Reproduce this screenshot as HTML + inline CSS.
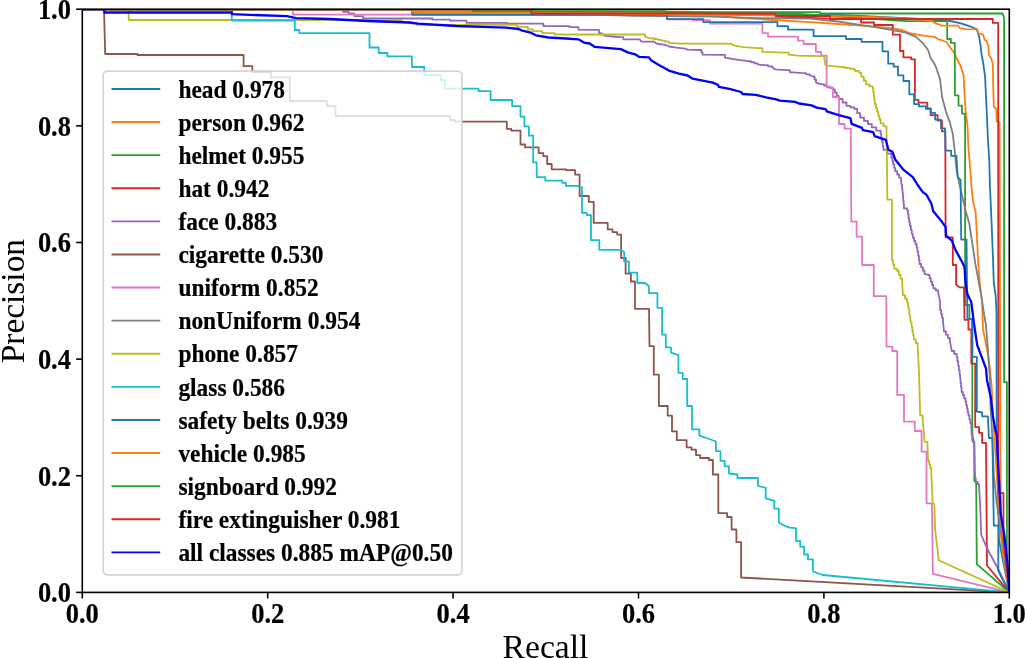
<!DOCTYPE html>
<html><head><meta charset="utf-8"><title>Precision-Recall</title>
<style>html,body{margin:0;padding:0;background:#fff}svg{display:block}text{font-family:"Liberation Serif","DejaVu Serif",serif;fill:#000}</style></head><body>
<svg width="1025" height="658" viewBox="0 0 1025 658">
<rect width="1025" height="658" fill="#fff"/>
<defs><clipPath id="c"><rect x="82.3" y="9.2" width="927" height="583.2"/></clipPath></defs>
<g clip-path="url(#c)" fill="none" stroke-linejoin="round" stroke-linecap="butt">
<polyline points="82.3,9.25 412.4,9.25 412.4,14.2 840,15 870,16.5 910,18.5 948,20.5 961,23.4 969.9,26.3 976.7,29.3 979,36.1 980.6,45.9 981.6,54.6 982.7,60 985,75.6 986.6,108.8 987.9,138 989.3,161.5 989.9,185 991.2,214.3 992.8,253.3 993.8,282.6 995.7,296.2 996.5,312.8 996.7,440 999,540 1009.3,592.4" stroke="#1f77b4" stroke-width="1.8"/>
<polyline points="82.3,9.25 412.4,9.25 412.4,11.2 690,11.6 705.8,14.4 735,17.5 772.4,20 810,22.2 838,24 861,25.6 892,28.1 902,30 911,33.5 923.4,35.6 934.8,36.9 937.7,39 946.5,42 950.4,47.8 954.3,52.7 957.2,59.5 960.6,65.9 963.5,74.6 964.5,93.2 965.9,114.6 967.4,124.4 968.4,147.8 970.4,171.2 971.3,185 972.9,200.6 975.6,212.3 976.8,233.8 978.2,263 980.1,286.5 982.1,302.1 983,329.5 987,349 989.9,368.5 991.8,388 992.4,407.6 993.8,427.1 996.7,474 999.6,513 1001.6,544.3 1004.5,563 1009.3,592.4" stroke="#ff7f0e" stroke-width="1.8"/>
<polyline points="82.3,9.25 472.9,9.25 472.9,11.4 665,11.6 800,14 860,18 907.2,21.2 947.2,21.2 947.2,39 950.9,39 950.9,42.9 954.8,42.9 954.9,95.4 958.5,95.4 958.5,105.6 962,105.6 962,113.7 965.1,113.7 965.1,305 969.4,305 969.4,318.8 972.3,318.8 972.3,440 974.3,444 974.3,481 976.2,483 976.8,564.1 1009.3,592.4" stroke="#2ca02c" stroke-width="1.8"/>
<polyline points="82.3,9.25 531,9.25 531.5,13.5 775.6,14 775.6,16.5 830,18.7 861,18.7 861,22.5 874,22.5 874,25 892.8,25 892.8,34.7 900,34.7 900,51 903.4,51 903.4,57.3 911.2,57.3 911.2,59.3 914.9,59.3 914.9,99.8 918.5,99.8 918.5,102.7 927.3,102.7 927.3,108.5 930.7,108.5 930.7,115.2 937.6,115.2 937.6,120.6 942,120.6 942,131.3 945.3,131.3 945.6,237.3 952.8,237.3 952.8,265 956.1,265 956.1,284.5 959.6,287.4 963.9,287.4 964.5,319.8 968.4,319.8 968.4,329.5 971.3,329.5 971.3,363.7 975.2,363.7 975.2,427.1 979.1,427.1 979.1,432.9 982.1,432.9 982.1,442.8 986,442.8 987,565.5 1009.3,592.4" stroke="#d62728" stroke-width="1.8"/>
<polyline points="82.3,9.25 343.1,9.25 343.1,11.9 348.7,11.9 348.7,13.5 354.4,13.5 354.4,16.2 363.1,16.2 363.1,18.5 432.4,18.5 432.4,19.7 449.9,19.7 449.9,20.6 466.6,20.6 466.6,22.9 507.2,22.9 507.2,23.7 543.4,23.7 543.4,26.2 569.6,26.2 569.6,27.2 578.4,27.2 578.4,29.7 596.5,29.9 599,29.9 599,33.1 601.5,33.1 601.5,34.4 604,34.4 604,35.6 612.7,36.5 620,37.2 623.3,37.2 623.3,39.3 639.6,39.3 641.5,41.6 653.9,41.6 656.4,43.5 666.4,45.2 668.9,46.5 676.4,47.7 685.1,48.7 687.6,49.7 700.1,50 701.4,50 701.4,52.4 702.6,52.4 702.6,54.7 720.6,54.9 725,54.9 725,57.7 735,59.3 747.5,61.2 750.8,61.2 750.8,62.2 754.2,62.2 754.2,63.3 757.5,63.3 757.5,64.3 763.7,65.2 768,65.2 768,66.3 772.4,66.3 772.4,67.4 775,69.3 787.4,70.2 789.9,70.2 789.9,72.2 802.4,73.1 806.1,73.1 806.1,74.3 809.9,74.3 809.9,75.5 812.9,76.5 814.5,76.5 814.5,79.5 816,79.5 816,82.6 821.7,84.4 824.2,84.4 824.2,85.5 826.8,85.5 826.8,86.6 829.8,86.6 829.8,87.9 832.8,87.9 832.8,89.3 834.8,89.3 834.8,92.5 836.7,92.5 836.7,95.8 838.7,95.8 838.7,99 842.6,99 842.6,102.5 846.5,102.5 846.5,105.9 850.4,105.9 850.4,107.3 854.3,107.3 854.3,108.8 857.2,108.8 857.2,113.2 860.1,113.2 860.1,117.6 864,117.6 864,120.8 867.9,120.8 867.9,124.1 871.8,124.1 871.8,127.3 876.2,127.3 876.2,130.7 880.6,130.7 880.6,134.1 881.3,134.1 881.3,138 882,138 882,141.9 882.8,141.9 882.8,145.9 883.5,145.9 883.5,149.8 887.4,149.8 887.4,153.7 891.3,153.7 891.3,157.6 892.3,157.6 892.3,161 893.2,161 893.2,164.4 894.2,164.4 894.2,167.8 895.2,167.8 895.2,171.2 897.2,171.2 897.2,174.5 899.1,174.5 899.1,177.7 901.1,177.7 901.1,181 901.7,185 902.1,185 902.1,188.9 902.5,188.9 902.5,192.8 902.9,192.8 902.9,196.7 903.2,196.7 903.2,200.6 903.6,200.6 903.6,204.5 904,204.5 904,208.4 907.3,208.4 907.3,210.4 907.9,210.4 907.9,214.3 908.6,214.3 908.6,218.2 909.2,218.2 909.2,222.1 909.9,222.1 909.9,226 910.9,226 910.9,229.9 911.8,229.9 911.8,233.8 912.8,233.8 912.8,237.7 914.1,237.7 914.1,240.9 915.4,240.9 915.4,244.2 916.7,244.2 916.7,247.4 917.4,247.4 917.4,251.6 918.2,251.6 918.2,255.7 918.9,255.7 918.9,259.9 919.6,259.9 919.6,264 921.2,264 921.2,267.3 922.9,267.3 922.9,270.5 924.5,270.5 924.5,273.8 928.4,274.8 929.6,274.8 929.6,278.2 930.8,278.2 930.8,281.6 932.1,281.6 932.1,285 933.3,285 933.3,288.4 935.8,288.4 935.8,290.4 938.2,290.4 938.2,292.3 940.1,302.1 940.1,310 941.1,310 941.1,313.9 942,313.9 942,317.8 943,317.8 943,321.7 944,331.5 946,331.5 946,334.7 947.9,334.7 947.9,338 949.9,338 949.9,341.2 951.8,351 954.2,351 954.2,353.9 956.7,353.9 956.7,356.8 957.4,356.8 957.4,361.2 958.2,361.2 958.2,365.6 958.9,365.6 958.9,370 959.6,370 959.6,374.4 960.1,374.4 960.1,378.8 960.6,378.8 960.6,383.2 961.1,383.2 961.1,387.6 961.6,387.6 961.6,392 962.9,392 962.9,395.2 964.2,395.2 964.2,398.5 965.5,398.5 965.5,401.7 966.2,401.7 966.2,405.1 967,405.1 967,408.5 967.7,408.5 967.7,412 968.4,412 968.4,415.4 969.4,415.4 969.4,419.3 970.3,419.3 970.3,423.2 971.3,423.2 971.3,427.1 971.7,435 972.6,435 972.6,438.3 973.4,438.3 973.4,441.5 974.3,441.5 974.3,444.8 974.9,474 976.2,481.8 977.7,481.8 977.7,484.2 979.1,484.2 979.1,486.7 980.5,513 981.1,534.5 987,548.2 997.7,568 1009.3,592.4" stroke="#9467bd" stroke-width="1.8"/>
<polyline points="82.3,9.25 104,9.25 105.2,54 137.4,54 137.4,55 243.6,55 243.6,66.2 252.3,66.2 252.3,72 271,72 271,77.4 289.8,77.4 289.8,101 327,101 327,106 335.5,106 335.5,116 449.9,116 449.9,120 454.9,120 454.9,121.6 506.8,121.6 506.8,128.9 511.3,128.9 511.3,130.6 520.5,130.6 520.5,144.5 525,144.5 525,147.4 538.6,147.4 538.6,153.1 543.3,153.1 543.3,156.2 547.2,156.2 547.2,164 551.7,164 551.7,169.3 566.3,169.3 566.3,170.2 575.1,170.2 575.1,174.7 579.6,174.7 579.6,196 588.8,196 588.8,201.9 593.7,201.9 593.7,222.9 607.7,222.9 607.7,229.4 612.5,229.4 612.5,232.1 617.2,232.1 617.2,234.6 621.1,234.6 621.1,258 625.6,258 625.6,273.7 630.9,273.7 630.9,281.5 635,281.5 635,308.8 649,308.8 649.5,346.2 653.8,346.2 653.8,374.7 658.9,374.7 658.9,406 667.7,406 667.7,415.7 672,415.7 672,431.3 676.8,431.3 676.8,440.1 686.6,440.1 686.6,447.3 691.5,447.3 691.5,449.7 696,449.7 696,455.1 700.2,455.1 700.2,458 709,458 709,460 712.9,460 712.9,474.5 718.3,474.5 718.3,513.1 727.1,513.1 727.1,517 731.6,517 731.6,529.5 736.4,529.5 736.4,542.2 741.1,542.2 741.1,577.5 1009.3,592.4" stroke="#8c564b" stroke-width="1.8"/>
<polyline points="82.3,9.25 292.8,9.25 292.8,14.6 667,14.6 667,19.3 692.6,19.3 692.6,20.2 710,20.2 710,23.7 762.4,23.7 762.4,33.1 768,33.1 768,36.6 798,36.6 798,40.6 803.7,40.6 803.7,44 815.9,44 815.9,51.8 821.1,51.8 821.1,55.6 826.6,55.6 826.6,87.3 832.8,87.3 832.8,97 839,97 839,124 844.5,124 844.5,128.7 850.8,128.7 851.3,221.7 856.6,221.7 856.6,236.7 862.1,236.7 862.1,265 873.8,265 873.8,296.2 886.3,296.2 886.5,346.7 892.3,346.7 892.3,351 897.2,351 897.2,394.9 904,394.9 904,421.6 914.8,421.6 914.8,431 921.6,431 921.6,451.6 926.5,451.6 926.5,503.3 931.9,503.3 932.9,573.9 1009.3,592.4" stroke="#e377c2" stroke-width="1.8"/>
<polyline points="82.3,9.25 412.4,9.25 412.4,14.6 600,14.8 634,15.9 710,16.6 760,18.1 810,18.7 838,21.5 848.5,23.1 873.5,26.8 892.2,30 906,32.7 916,36.8 923.4,43.7 927.9,49.8 930.9,58.5 934.3,63.4 936.2,67.8 940.1,79.5 942.1,97.1 946,111.7 949.9,122.4 952.8,134.1 954.8,151.7 956.7,171.2 959.6,185 965.5,210.4 969.4,224 975.2,263 981.1,294.3 983.4,310 986,325.6 987.9,349 989.9,378.3 990.5,407.6 991.8,427.1 993.8,474 996.7,503.3 999.6,522.8 1003,545 1009.3,592.4" stroke="#7f7f7f" stroke-width="1.8"/>
<polyline points="82.3,9.25 128.7,9.25 128.7,20 402,20 402,22.3 417,23.8 417,24.9 517.2,24.9 517.2,26.8 527.8,26.8 527.8,29.3 532.8,29.3 532.8,31.2 542.2,31.2 542.2,33.1 554.6,33.1 554.6,34.5 642.7,34.5 645.2,34.5 645.2,36.8 651.4,38.5 654.7,38.5 654.7,39.2 658.1,39.2 658.1,39.9 661.4,39.9 661.4,40.6 665.1,40.6 665.1,41.7 668.9,41.7 668.9,42.8 680.2,43.7 730.6,43.7 735,45.6 743.7,47.2 758.7,48.1 762.4,48.1 762.4,51.8 786.2,52.7 788.7,52.7 788.7,54.7 797.4,55.6 821.1,56.2 824.3,56.2 824.3,58.7 825.5,65.3 840.6,66.8 843.9,66.8 843.9,67.5 847.1,67.5 847.1,68.1 850.4,68.1 850.4,68.8 854.7,68.8 854.7,70.8 859,70.8 859,72.7 861.3,72.7 861.3,76.6 863.7,76.6 863.7,80.5 866,80.5 866,84.4 869.4,84.4 869.4,86.3 872.8,86.3 872.8,88.3 873.3,88.3 873.3,92.2 873.8,92.2 873.8,96.1 874.3,96.1 874.3,100 874.8,100 874.8,103.9 876,103.9 876,107.8 877.1,107.8 877.1,111.7 878.3,111.7 878.3,115.6 879.4,115.6 879.4,119.5 880.6,119.5 880.6,123.4 883.5,123.4 883.5,126.4 886.5,126.4 886.5,129.3 887.4,199.6 891.9,199.6 891.9,260.1 893.1,260.1 893.1,264.5 894.3,264.5 894.3,268.9 897.2,268.9 897.2,270.9 898.8,270.9 898.8,274.8 900.5,274.8 900.5,278.7 902.1,278.7 902.1,282.6 903,295.2 905,295.2 905,298.6 907,298.6 907,302.1 907.8,302.1 907.8,305.7 908.5,305.7 908.5,309.2 909.3,309.2 909.3,312.8 910.9,322.7 911.6,322.7 911.6,326.9 912.3,326.9 912.3,331 913.1,331 913.1,335.1 913.8,335.1 913.8,339.3 915.8,339.3 915.8,343.2 917.7,343.2 917.7,347.1 919,372.4 920.2,415.4 922.6,415.4 922.6,419.3 924.1,435 924.5,441.8 927.4,441.8 928,460.4 929.1,460.4 929.1,464.3 930.2,464.3 930.2,468.2 931.3,468.2 931.3,472.1 932.7,503.3 934.3,504 935.2,530.6 937.2,546.2 938.6,560.2 1009.3,592.4" stroke="#bcbd22" stroke-width="1.8"/>
<polyline points="82.3,9.25 231.8,9.25 231.8,20.5 294.8,20.5 294.8,30 299.3,30 299.3,33.2 369.5,33.2 369.5,47.5 378.7,47.5 378.7,53 387.4,53 387.4,56.4 411.9,56.4 411.9,67 424.2,67 424.2,75 440.6,75 440.6,80 444.9,80 444.9,88.7 478.6,88.7 478.6,91.2 490.6,91.2 490.6,100 512.1,100 512.1,106.2 520.5,106.2 520.5,116.6 524.4,116.6 524.4,126.3 528.9,126.3 528.9,135.7 533.2,135.7 533.2,162.4 536.7,162.4 536.7,177.1 545.3,177.1 545.3,180.6 562.4,180.6 562.4,182.9 566,182.9 566,185.9 579,185.9 579,187.4 582,187.4 582,212.8 586.8,212.8 586.8,215.1 591,215.1 591,240.1 599.3,240.1 599.3,249.9 621.1,249.9 624.2,252.2 624.2,261.4 628.9,261.4 628.9,272.7 637.3,272.7 637.3,283 645.1,283 649,286.3 649,293.2 657.4,293.2 657.4,307.8 662.1,307.8 662.1,334.7 665.8,334.7 665.8,347.4 671,347.4 671,352.7 678.4,355.2 678.4,372.8 682.7,372.8 682.7,379 687.2,379 687.2,406 692,406 692,429.4 699.3,429.4 699.3,435.6 708,438.5 715.9,441.5 715.9,451.2 720.5,451.2 720.5,460.9 724.7,460.9 724.7,466.3 729,466.3 729,473.5 737.4,474.5 737.4,478 757.9,478 757.9,485.8 765.7,487.8 765.7,498.3 774.3,500.9 774.3,508.7 778.8,508.7 778.8,522.3 783.3,525.2 789.5,527.6 796,528.2 796,540.9 800.2,540.9 800.2,546.7 804.1,546.7 804.1,554.5 808,554.5 808,559.4 812.9,559.4 812.9,571.1 816.8,573 822.7,575 1009.3,592.4" stroke="#17becf" stroke-width="1.8"/>
<polyline points="82.3,9.25 412.4,9.25 412.4,14.6 667,14.9 667,19.1 703.3,19.1 703.3,22.2 777.4,22.2 777.4,26.2 788,26.2 788,29.7 813.6,29.7 813.6,36.2 846,36.2 846,39 861.6,39 861.6,41.8 882.5,41.8 882.5,51.4 888.2,51.4 888.2,63.7 893.7,63.7 893.7,66.6 898,66.6 898,75.4 903.4,75.4 903.4,81 909.3,81 909.3,94.4 914.1,94.4 914.1,104.1 919,104.1 919,106.4 925.9,106.4 925.9,108.9 930.7,108.9 930.7,112.8 935.1,112.8 935.1,119.6 941,119.6 941,128.4 945.1,128.4 945.6,150.7 951.2,150.7 951.2,155.9 956.4,155.9 957.7,177.1 960.6,180 961.2,239.6 966.5,239.6 967.4,318.8 972.3,318.8 972.3,356.8 976.8,356.8 976.8,411.5 982.1,412.5 982.1,416.3 987.9,416.3 988.9,438 992.4,438 993.8,525.7 998.3,525.7 998.3,571 1009.3,592.4" stroke="#1f77b4" stroke-width="1.8"/>
<polyline points="82.3,9.25 412.4,9.25 412.4,12.1 531.5,12.9 775.6,15.6 838,16.2 869.7,16.9 888.4,17.7 908.4,18.7 931.8,21 934.8,22.9 941.6,25.6 958.2,25.6 959.6,28.1 966,29.1 977.2,29.3 978.2,33.2 983,34.6 984.5,39.5 986.5,41 988.4,45.9 988.9,54.6 991.3,58.5 992.8,63.9 993.2,85.4 993.8,106.8 996.3,108.8 996.7,121.5 999.6,122.4 1000.3,440 1001,520 1009.3,592.4" stroke="#ff7f0e" stroke-width="1.8"/>
<polyline points="82.3,9.25 472.9,9.25 472.9,11.2 665.2,11.2 665.2,12.1 820,12.1 820,13.5 1002.6,13.5 1004.1,18 1004.1,382.2 1006.9,382.2 1006.9,560 1009.3,592.4" stroke="#2ca02c" stroke-width="1.8"/>
<polyline points="82.3,9.25 531,9.25 531.5,13.5 775.6,13.5 775.6,16 830,16 830,19 992.8,19 992.8,22.9 998.2,22.9 998.3,493.1 1003.5,493.1 1003.5,540 1009.3,592.4" stroke="#d62728" stroke-width="1.8"/>
<polyline points="82.3,9.2 104,9.2 104.5,12.5 232,12.5 232,14.2 287,16.2 296,18.2 330,19 367,21 410,22.5 418,23.7 456,26 489.7,27.2 506,27.7 518.4,29 522.2,30.6 530.9,32.7 535.9,35.3 548.4,37.5 565.9,38.5 578.4,39.3 584,42.6 589.6,43.5 594.6,46.8 609,48.1 620.8,49.1 627.7,52.4 635.2,54.3 639,56.8 648.9,57.4 651.4,60.6 658.9,64.9 668.9,70.6 678.9,73.7 687.6,75.5 692.6,78.7 703.9,80.9 712.7,82.6 717.8,84.7 719,86.9 730.4,89.2 741.2,92 742.5,94 755.8,94.9 766,97.4 776.1,99.3 779.9,100.6 795.1,101.9 798.9,103.5 811.6,105.4 816.7,107.6 825.6,109.2 826.8,111.4 838.7,115.2 850.4,118.1 851.7,123.9 862,127.8 862.9,130.2 873.2,132.2 874.6,136.1 885.8,139.8 888.4,149.8 892.3,151.7 895.2,159.5 903,169.3 912.8,177.1 917.7,185 922.6,191.8 926.5,194.8 931.3,203.5 933.3,211.3 942.1,222.1 945.6,227 946,235.7 951.8,240.6 955.7,250.4 961.6,261.1 964.5,267 965.5,282.6 967.4,294.3 971.3,302.1 972.3,310 973.7,321.7 977.2,345.1 986,368.5 987,380.2 990.9,397.8 992.8,415.4 994.8,427.1 996.7,435 998.7,474 1000.6,513 1004.5,536.5 1007.4,562.8 1009.3,592.4" stroke="#0000ff" stroke-width="2.3"/>
</g>
<g stroke="#000" stroke-width="1.6" fill="none" stroke-linecap="square">
<rect x="82.3" y="9.2" width="927" height="583.2"/>
<line x1="82.3" y1="592.4" x2="82.3" y2="598.5" stroke-linecap="butt"/>
<line x1="82.3" y1="592.4" x2="76.2" y2="592.4" stroke-linecap="butt"/>
<line x1="267.7" y1="592.4" x2="267.7" y2="598.5" stroke-linecap="butt"/>
<line x1="82.3" y1="475.76" x2="76.2" y2="475.76" stroke-linecap="butt"/>
<line x1="453.1" y1="592.4" x2="453.1" y2="598.5" stroke-linecap="butt"/>
<line x1="82.3" y1="359.12" x2="76.2" y2="359.12" stroke-linecap="butt"/>
<line x1="638.5" y1="592.4" x2="638.5" y2="598.5" stroke-linecap="butt"/>
<line x1="82.3" y1="242.48" x2="76.2" y2="242.48" stroke-linecap="butt"/>
<line x1="823.9" y1="592.4" x2="823.9" y2="598.5" stroke-linecap="butt"/>
<line x1="82.3" y1="125.84" x2="76.2" y2="125.84" stroke-linecap="butt"/>
<line x1="1009.3" y1="592.4" x2="1009.3" y2="598.5" stroke-linecap="butt"/>
<line x1="82.3" y1="9.2" x2="76.2" y2="9.2" stroke-linecap="butt"/>
</g>
<g font-weight="bold" font-size="26.5" stroke="#000" stroke-width="0.2">
<text transform="translate(82.3,622.5) scale(1,1.09)" text-anchor="middle">0.0</text>
<text transform="translate(71,602.2) scale(1,1.09)" text-anchor="end">0.0</text>
<text transform="translate(267.7,622.5) scale(1,1.09)" text-anchor="middle">0.2</text>
<text transform="translate(71,485.56) scale(1,1.09)" text-anchor="end">0.2</text>
<text transform="translate(453.1,622.5) scale(1,1.09)" text-anchor="middle">0.4</text>
<text transform="translate(71,368.92) scale(1,1.09)" text-anchor="end">0.4</text>
<text transform="translate(638.5,622.5) scale(1,1.09)" text-anchor="middle">0.6</text>
<text transform="translate(71,252.28) scale(1,1.09)" text-anchor="end">0.6</text>
<text transform="translate(823.9,622.5) scale(1,1.09)" text-anchor="middle">0.8</text>
<text transform="translate(71,135.64) scale(1,1.09)" text-anchor="end">0.8</text>
<text transform="translate(1009.3,622.5) scale(1,1.09)" text-anchor="middle">1.0</text>
<text transform="translate(71,19) scale(1,1.09)" text-anchor="end">1.0</text>
</g>
<text transform="translate(545.5,657.8) scale(1,1.03)" font-size="33.6" text-anchor="middle">Recall</text>
<text transform="translate(23.8,301.1) rotate(-90) scale(1,1.03)" font-size="33.4" text-anchor="middle">Precision</text>
<rect x="103.2" y="71.1" width="358.8" height="503.8" rx="4.3" ry="4.3" fill="#fff" fill-opacity="0.8" stroke="#ccc" stroke-opacity="0.85" stroke-width="1.7"/>
<g font-weight="bold" font-size="23.4" stroke="#000" stroke-width="0.2">
<line x1="111.5" y1="88.95" x2="160.2" y2="88.95" stroke="#1f77b4" stroke-width="1.9"/>
<text transform="translate(178.4,97.6) scale(1,1.075)">head 0.978</text>
<line x1="111.5" y1="122.05" x2="160.2" y2="122.05" stroke="#ff7f0e" stroke-width="1.9"/>
<text transform="translate(178.4,130.7) scale(1,1.075)">person 0.962</text>
<line x1="111.5" y1="155.15" x2="160.2" y2="155.15" stroke="#2ca02c" stroke-width="1.9"/>
<text transform="translate(178.4,163.8) scale(1,1.075)">helmet 0.955</text>
<line x1="111.5" y1="188.25" x2="160.2" y2="188.25" stroke="#d62728" stroke-width="1.9"/>
<text transform="translate(178.4,196.9) scale(1,1.075)">hat 0.942</text>
<line x1="111.5" y1="221.35" x2="160.2" y2="221.35" stroke="#9467bd" stroke-width="1.9"/>
<text transform="translate(178.4,230) scale(1,1.075)">face 0.883</text>
<line x1="111.5" y1="254.45" x2="160.2" y2="254.45" stroke="#8c564b" stroke-width="1.9"/>
<text transform="translate(178.4,263.1) scale(1,1.075)">cigarette 0.530</text>
<line x1="111.5" y1="287.55" x2="160.2" y2="287.55" stroke="#e377c2" stroke-width="1.9"/>
<text transform="translate(178.4,296.2) scale(1,1.075)">uniform 0.852</text>
<line x1="111.5" y1="320.65" x2="160.2" y2="320.65" stroke="#7f7f7f" stroke-width="1.9"/>
<text transform="translate(178.4,329.3) scale(1,1.075)">nonUniform 0.954</text>
<line x1="111.5" y1="353.75" x2="160.2" y2="353.75" stroke="#bcbd22" stroke-width="1.9"/>
<text transform="translate(178.4,362.4) scale(1,1.075)">phone 0.857</text>
<line x1="111.5" y1="386.85" x2="160.2" y2="386.85" stroke="#17becf" stroke-width="1.9"/>
<text transform="translate(178.4,395.5) scale(1,1.075)">glass 0.586</text>
<line x1="111.5" y1="419.95" x2="160.2" y2="419.95" stroke="#1f77b4" stroke-width="1.9"/>
<text transform="translate(178.4,428.6) scale(1,1.075)">safety belts 0.939</text>
<line x1="111.5" y1="453.05" x2="160.2" y2="453.05" stroke="#ff7f0e" stroke-width="1.9"/>
<text transform="translate(178.4,461.7) scale(1,1.075)">vehicle 0.985</text>
<line x1="111.5" y1="486.15" x2="160.2" y2="486.15" stroke="#2ca02c" stroke-width="1.9"/>
<text transform="translate(178.4,494.8) scale(1,1.075)">signboard 0.992</text>
<line x1="111.5" y1="519.25" x2="160.2" y2="519.25" stroke="#d62728" stroke-width="1.9"/>
<text transform="translate(178.4,527.9) scale(1,1.075)">fire extinguisher 0.981</text>
<line x1="111.5" y1="552.35" x2="160.2" y2="552.35" stroke="#0000ff" stroke-width="1.9"/>
<text transform="translate(178.4,561) scale(1,1.075)">all classes 0.885 mAP@0.50</text>
</g>
</svg></body></html>
